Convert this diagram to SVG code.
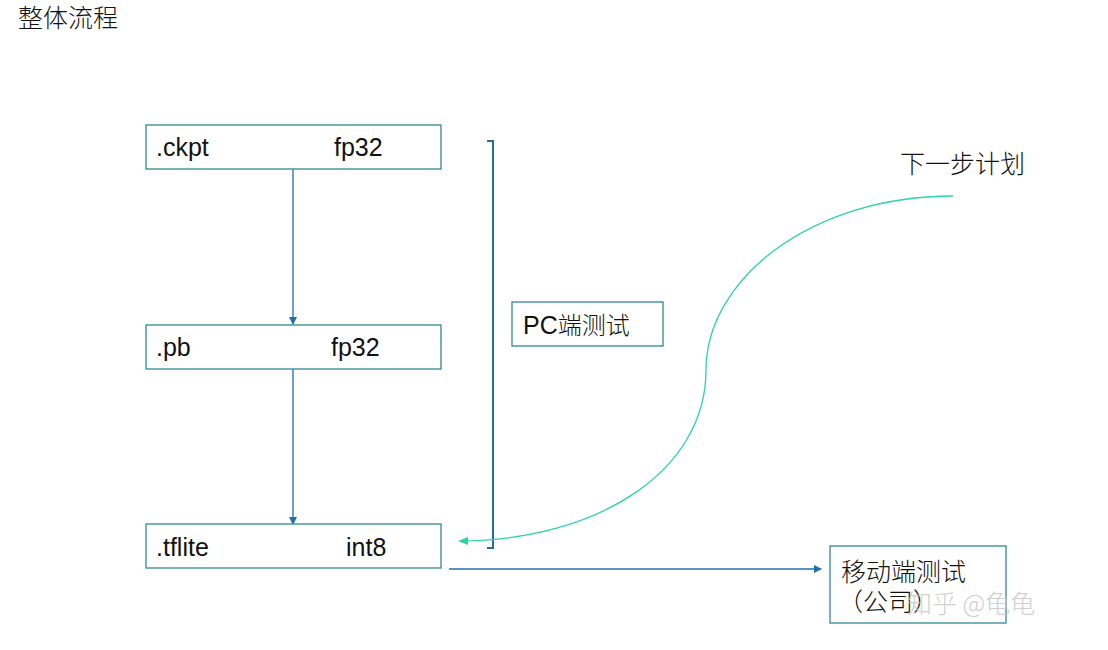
<svg xmlns="http://www.w3.org/2000/svg" width="1108" height="650" viewBox="0 0 1108 650">
<defs>
<style>
text{font-family:"Liberation Sans","Noto Sans CJK SC",sans-serif;fill:#111;font-size:25px}
.cn{font-family:"Noto Sans CJK SC",sans-serif;font-weight:300}
.box{fill:#fff;stroke:#2e8b8f;stroke-width:1.3}
.ln{stroke:#1f6fa8;stroke-width:1.3;fill:none}
</style>
<marker id="a" markerWidth="8" markerHeight="8" refX="7" refY="4" orient="auto" markerUnits="userSpaceOnUse"><path d="M0,0L8,4L0,8z" fill="#1f6fa8"/></marker>
<marker id="g" markerWidth="10" markerHeight="8" refX="8" refY="4" orient="auto" markerUnits="userSpaceOnUse"><path d="M0,0L10,4L0,8z" fill="#2ad3a8"/></marker>
</defs>
<rect width="1108" height="650" fill="#fff"/>
<text x="18" y="27" class="cn" font-size="23">整体流程</text>
<g id="connectors">
<line class="ln" x1="293" y1="169" x2="293" y2="324" marker-end="url(#a)"/>
<line class="ln" x1="293" y1="369" x2="293" y2="524" marker-end="url(#a)"/>
<line class="ln" x1="449" y1="569" x2="821" y2="569" marker-end="url(#a)"/>
<path d="M487,141H493V548H487" fill="none" stroke="#1f6fa8" stroke-width="2"/>
<path d="M953,196C810,196 706,280 706,370C706,470 600,540 460,541" fill="none" stroke="#2ad3a8" stroke-width="1.3" marker-end="url(#g)"/>
</g>
<g id="ckpt"><rect class="box" x="146" y="125" width="295" height="44"/><text x="156" y="156">.ckpt</text><text x="334" y="156">fp32</text></g>
<g id="pb"><rect class="box" x="146" y="325" width="295" height="44"/><text x="156" y="356">.pb</text><text x="331" y="356">fp32</text></g>
<g id="tflite"><rect class="box" x="146" y="524" width="295" height="44"/><text x="156" y="556">.tflite</text><text x="346" y="556">int8</text></g>
<g id="pc"><rect class="box" x="512" y="302" width="151" height="44"/><text x="523" y="334">PC<tspan class="cn" font-size="24">端测试</tspan></text></g>
<g id="plan"><text x="900" y="173" class="cn" font-size="24">下一步计划</text></g>
<g id="mobile"><rect class="box" x="830" y="546" width="176" height="77"/><text x="841" y="581" class="cn" font-size="24">移动端测试</text><text x="838" y="611" class="cn" font-size="24">（公司）</text></g>
<text x="907" y="613" class="cn" font-size="28" style="fill:#c8c8c8" opacity="0.85">知乎 @龟龟</text>
</svg>
